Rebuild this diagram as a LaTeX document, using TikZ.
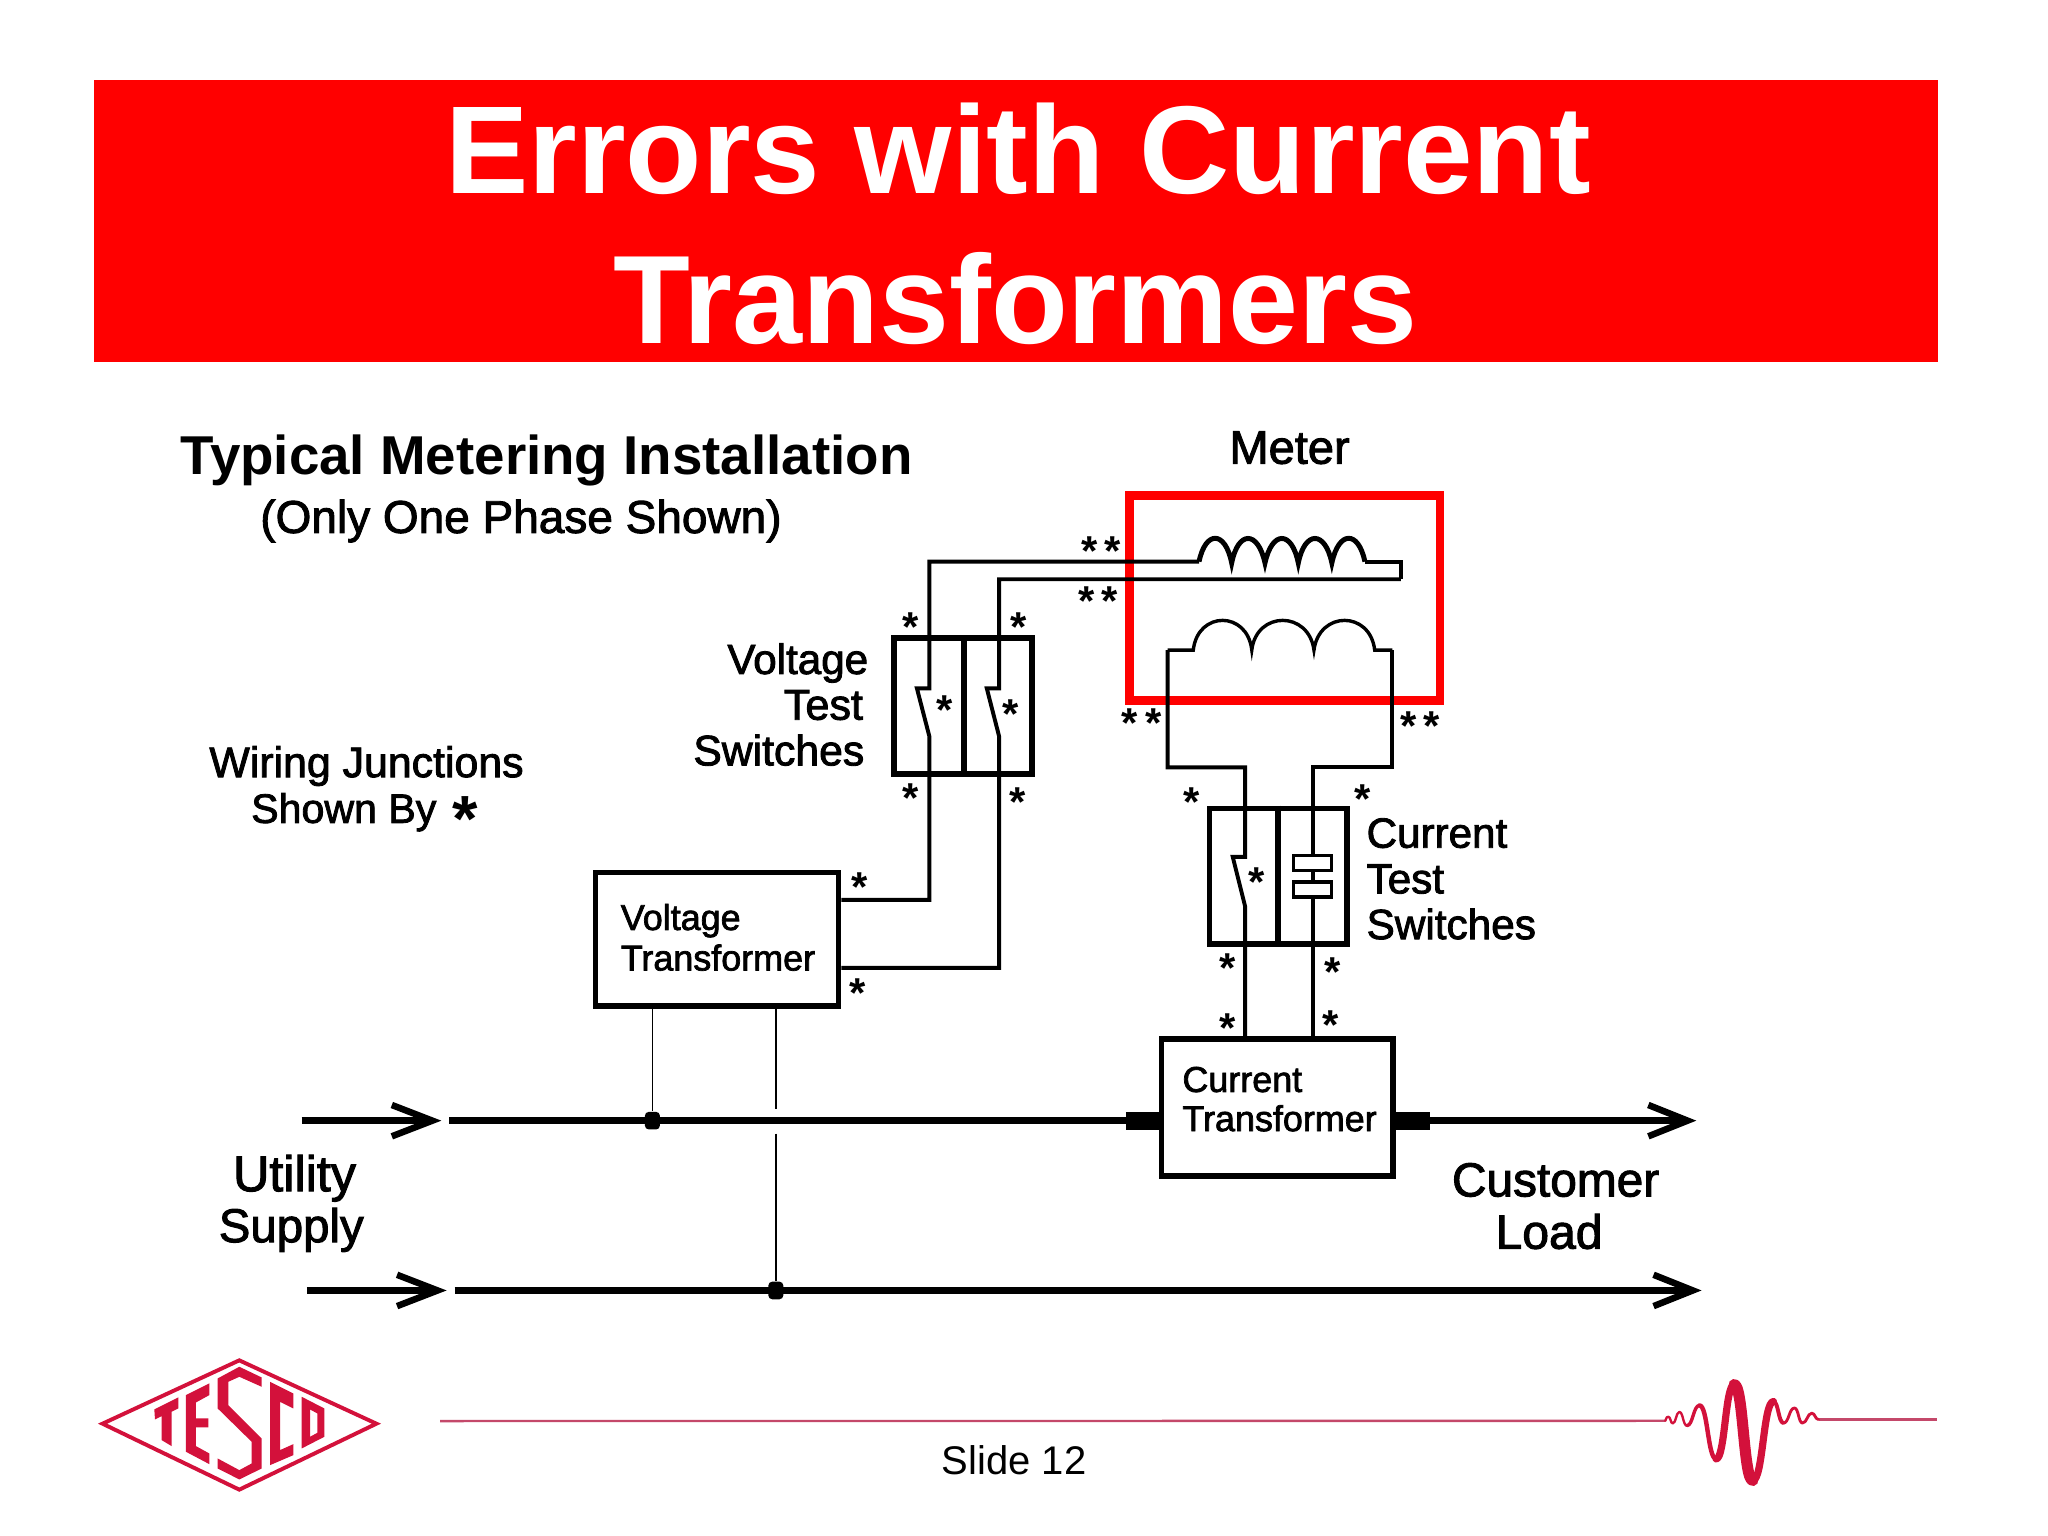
\documentclass[tikz,border=0pt]{standalone}
\usepackage{fontspec}
\setmainfont{Liberation Sans}
\newfontfamily\medf[FakeBold=2]{Liberation Sans}
\newfontfamily\boldf{Liberation Sans Bold}
\newcommand\fz[1]{\fontsize{\fpeval{#1*0.653}pt}{\fpeval{#1*0.653*1.2}pt}\selectfont}
\def\uu{0.653pt}
\definecolor{logored}{HTML}{D3113B}
\definecolor{logoline}{HTML}{C4486A}
\tikzset{
  lbl/.style={inner sep=0pt,anchor=base west,font=\medf\fz{#1}},
  lblr/.style={inner sep=0pt,anchor=base east,font=\medf\fz{#1}},
  lblc/.style={inner sep=0pt,anchor=base,font=\medf\fz{#1}},
  wire/.style={line width=3*\uu,black,line join=miter},
  thinwire/.style={line width=1.3*\uu,black},
  frame/.style={draw=black,line width=4.4*\uu,inner sep=0pt},
  bus/.style={line width=5*\uu,black},
  head/.style={line width=5*\uu,black,line join=miter},
  aster/.style={inner sep=0pt,anchor=base,font=\boldf\fz{32}},
  dotj/.style={rectangle,rounded corners=3*\uu,fill=black,inner sep=0pt,minimum width=11.5*\uu,minimum height=13.5*\uu},
  logoshape/.style={fill=logored,draw=none},
  wave/.style={draw=logored,line cap=round,line join=round}
}
\begin{document}
\begin{tikzpicture}[x=0.653pt,y=-0.653pt]
\useasboundingbox (0,0) rectangle (1568,1176);
\fill[white] (0,0) rectangle (1568,1176);
% banner
\node[fill=red,minimum width=1412*\uu,minimum height=216*\uu,inner sep=0pt] (banner) at (778,169) {};
\node[inner sep=0pt,anchor=base,white,font=\boldf\fz{95.7}] (title1) at (779.5,148) {Errors with Current};
\node[inner sep=0pt,anchor=base,white,font=\boldf\fz{96.3}] (title2) at (777.5,263) {Transformers};
% headings
\node[inner sep=0pt,anchor=base west,font=\boldf\fz{41.9}] (heading) at (138,363) {Typical Metering Installation};
\node[lbl=35.2] (sub) at (199,408) {(Only One Phase Shown)};
\node[lbl=36] (meter) at (941,355) {Meter};
\node[lblr=32.3] (vts1) at (665,516) {Voltage};
\node[lblr=33] (vts2) at (661,551) {Test};
\node[lblr=32.7] (vts3) at (662,586) {Switches};
\node[lbl=32.8] (wj1) at (160,595) {Wiring Junctions};
\node[lbl=31.5] (wj2) at (192,630) {Shown By};
\node[inner sep=0pt,anchor=base,font=\boldf\fz{50}] (wj3) at (356,644) {*};
\node[lbl=32.3] (cts1) at (1046,649) {Current};
\node[lbl=32.3] (cts2) at (1046,684) {Test};
\node[lbl=32.4] (cts3) at (1046,719) {Switches};
\node[lblc=38.5] (us1) at (225.5,912) {Utility};
\node[lblc=36.3] (us2) at (223,951) {Supply};
\node[lblc=36.6] (cl1) at (1191,916) {Customer};
\node[lblc=36.8] (cl2) at (1186,956) {Load};
\node[inner sep=0pt,anchor=base,font=\fz{30.6}] (slide) at (776.5,1129) {Slide 12};
% boxes
\node[frame,minimum width=186*\uu,minimum height=102*\uu] (vt) at (549,719) {};
\node[lbl=27.5] (vtt1) at (475,712) {Voltage};
\node[lbl=27.5] (vtt2) at (475,743) {Transformer};
\node[frame,minimum width=105.6*\uu,minimum height=103.6*\uu] (vsw) at (737.2,540.5) {};
\node[frame,minimum width=105*\uu,minimum height=103.6*\uu] (csw) at (978.5,670.8) {};
\node[frame,minimum width=177.5*\uu,minimum height=105*\uu] (ct) at (978,848) {};
\node[lbl=27.5] (ctt1) at (905,836) {Current};
\node[lbl=27.5] (ctt2) at (905,866) {Transformer};
% meter box
\node[draw=red,line width=6.6*\uu,minimum width=237.5*\uu,minimum height=157*\uu,inner sep=0pt] (meterbox) at (983.7,458) {};
% named junctions
\coordinate (coilA) at (918,430);
\coordinate (coilB) at (1045,430);
\coordinate (turn1) at (1072.6,430);
\coordinate (turn2) at (1072.6,443.5);
\coordinate (vtA) at (vt.east |- 0,689);
\coordinate (vtB) at (vt.east |- 0,741);
% divider lines
\draw[line width=4.4*\uu] (vsw.north -| 737.8,0) -- (vsw.south -| 737.8,0);
\draw[line width=4.4*\uu] (csw.north -| 978.5,0) -- (csw.south -| 978.5,0);
% voltage wires with switches
\draw[wire] (coilA) -- (711.6,430) -- (711.6,527) -- (702,527) -- (711.6,564) -- (711.6,689) -- (vtA);
\draw[wire] (turn2) -- (765,443.5) -- (765,527) -- (755.5,527) -- (765,564) -- (765,741) -- (vtB);
\draw[wire] (coilB) -- (turn1) -- (turn2);
% top coil
\draw[wire,line width=3.8*\uu] (coilA) .. controls (923,406) and (938,406) .. (943,431)
  .. controls (948,406) and (963,406) .. (968.5,431)
  .. controls (974,406) and (989,406) .. (994,431)
  .. controls (999,406) and (1014.5,406) .. (1019.7,431)
  .. controls (1025,406) and (1040,406) .. (coilB);
% bottom coil
\coordinate (lc1) at (894,497.7);
\coordinate (lc2) at (1066,497.7);
\draw[wire,line width=2.6*\uu] (lc1) -- (913.6,497.7)
  .. controls (917,467.4) and (955,467.4) .. (958.4,497.7)
  .. controls (962,467.4) and (1002,467.4) .. (1006,497.7)
  .. controls (1010,467.4) and (1049,467.4) .. (1052.5,497.7) -- (lc2);
% coil to current switches
\draw[wire] (lc1) -- (894,587.5) -- (953.3,587.5) -- (953.3,656) -- (943.8,656) -- (953.3,694) -- (953.3,796);
\draw[wire] (lc2) -- (1066,587.5) -- (1005.4,587.5) -- (1005.4,654);
\draw[wire] (1005.4,667.4) -- (1005.4,674.3);
\draw[wire] (1005.4,687.8) -- (1005.4,796);
\node[draw=black,line width=2.5*\uu,fill=white,minimum width=29*\uu,minimum height=11.5*\uu,inner sep=0pt] (cap1) at (1004.7,660.7) {};
\node[draw=black,line width=2.5*\uu,fill=white,minimum width=29*\uu,minimum height=11.5*\uu,inner sep=0pt] (cap2) at (1004.7,681) {};
% buses
\coordinate (ctL) at (889,858);
\coordinate (ctR) at (1067,858);
\draw[bus] (231,858) -- (328,858);
\draw[head] (300,846) -- (331,858) -- (300,870);
\draw[bus] (344,858) -- (ctL);
\draw[line width=14*\uu] (862,858) -- (ctL);
\draw[line width=14*\uu] (ctR) -- (1095,858);
\draw[bus] (ctR) -- (1289,858);
\draw[head] (1262,846) -- (1292,858) -- (1262,870);
\draw[bus] (235,988) -- (332,988);
\draw[head] (304,976) -- (335,988) -- (304,1000);
\draw[bus] (348,988) -- (1293,988);
\draw[head] (1266,976) -- (1296,988) -- (1266,1000);
% tap lines
\node[dotj] (d1) at (499.5,858) {};
\node[dotj] (d2) at (594,988) {};
\draw[thinwire] (vt.south -| d1) -- (d1);
\draw[thinwire] (vt.south -| d2) -- (594,849);
\draw[thinwire] (594,868) -- (d2);
% asterisks
\foreach \x/\y [count=\i] in {697/476,780/476,697/607,779/610,723/540,774/543,912/610,1043/608,962/671,940/737,1020/740,940/783,1019/781,658/675,657/756}
  \node[aster] (ast\i) at (\x,\y+15) {*};
\foreach \x/\y [count=\i] in {843/418,841/456,874/550,1087/552}
  \node[aster] (dbl\i) at (\x,\y+15) {*\kern3.5pt*};
% logo
\draw[logored,line width=3*\uu,line join=miter] (78.5,1090) -- (183.2,1041.5) -- (288.2,1090) -- (183.2,1140.5) -- cycle;
\begin{scope}[shift={(45.9,1026)},x=0.1667pt,y=-0.1667pt]
\fill[logoshape] (283,208) -- (355,172) -- (355,205) -- (335,215) -- (335,318) -- (305,300) -- (305,228) -- (285,238) -- cycle;
\fill[logoshape] (378,165) -- (448,130) -- (448,165) -- (408,187) -- (408,235) -- (445,235) -- (445,262) -- (408,262) -- (408,318) -- (448,340) -- (448,372) -- (378,335) -- cycle;
\fill[logoshape] (538,80) -- (605,112) -- (605,140) -- (538,110) -- (505,125) -- (505,195) -- (605,295) -- (605,385) -- (538,418) -- (473,385) -- (473,355) -- (538,390) -- (575,370) -- (575,305) -- (473,205) -- (473,115) -- cycle;
\fill[logoshape] (630,125) -- (700,160) -- (700,205) -- (660,185) -- (660,330) -- (700,312) -- (700,345) -- (630,375) -- cycle;
\fill[logoshape,even odd rule] (725,170) -- (793,205) -- (793,290) -- (725,325) -- cycle (750,208) -- (772,220) -- (772,278) -- (750,290) -- cycle;
\end{scope}
% signature line and wave
\draw[logoline,line width=1.8*\uu] (337,1088) -- (1275,1087.8);
\draw[logoline,line width=1.8*\uu] (1392.3,1086.8) -- (1483,1086.8);
\draw[wave,line width=1.8*\uu] (1275,1087.8) .. controls (1276,1084.7) and (1276.5,1084.7) .. (1277.4,1084.7)
  .. controls (1279,1084.7) and (1279,1089.8) .. (1280.7,1089.8)
  .. controls (1283.2,1089.8) and (1283.2,1081) .. (1285.8,1081)
  .. controls (1288.6,1081) and (1288.6,1091.5) .. (1291.5,1091.5);
\draw[wave,line width=2.6*\uu] (1291.5,1091.5) .. controls (1296.3,1091.5) and (1296.3,1076) .. (1301.2,1076);
\draw[wave,line width=3.4*\uu] (1301.2,1076) .. controls (1307.5,1076) and (1307.5,1117) .. (1313.9,1117);
\draw[wave,line width=5.5*\uu] (1313.9,1117) .. controls (1320.8,1117) and (1320.8,1060) .. (1327.7,1060);
\draw[wave,line width=8.5*\uu] (1327.7,1060) .. controls (1334.8,1060) and (1334.8,1133.5) .. (1342,1133.5);
\draw[wave,line width=5.5*\uu] (1342,1133.5) .. controls (1349.9,1133.5) and (1349.9,1073) .. (1357.8,1073);
\draw[wave,line width=3*\uu] (1357.8,1073) .. controls (1361.6,1073) and (1361.6,1089.5) .. (1365.5,1089.5);
\draw[wave,line width=2.2*\uu] (1365.5,1089.5) .. controls (1369.7,1089.5) and (1369.7,1078) .. (1373.9,1078)
  .. controls (1377,1078) and (1377,1089.5) .. (1380,1089.5)
  .. controls (1383.6,1089.5) and (1383.6,1082) .. (1387.2,1082)
  .. controls (1389.7,1082) and (1389.7,1086.8) .. (1392.3,1086.8);
\end{tikzpicture}
\end{document}
